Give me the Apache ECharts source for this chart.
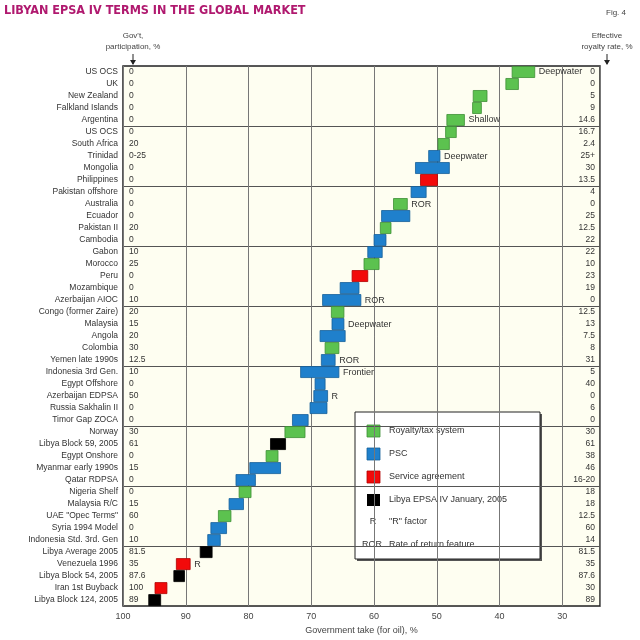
<!DOCTYPE html>
<html><head><meta charset="utf-8">
<script src="https://cdn.jsdelivr.net/npm/echarts@6/dist/echarts.min.js"></script>
<style>html,body{margin:0;padding:0;background:#fff}#c{width:640px;height:640px}</style>
</head><body><div id="c"></div>
<script>
const countries=["US OCS","UK","New Zealand","Falkland Islands","Argentina","US OCS","South Africa","Trinidad","Mongolia","Philippines","Pakistan offshore","Australia","Ecuador","Pakistan II","Cambodia","Gabon","Morocco","Peru","Mozambique","Azerbaijan AIOC","Congo (former Zaire)","Malaysia","Angola","Colombia","Yemen late 1990s","Indonesia 3rd Gen.","Egypt Offshore","Azerbaijan EDPSA","Russia Sakhalin II","Timor Gap ZOCA","Norway","Libya Block 59, 2005","Egypt Onshore","Myanmar early 1990s","Qatar RDPSA","Nigeria Shelf","Malaysia R/C","UAE \"Opec Terms\"","Syria 1994 Model","Indonesia Std. 3rd. Gen","Libya Average 2005","Venezuela 1996","Libya Block 54, 2005","Iran 1st Buyback","Libya Block 124, 2005"];
const participation=["0","0","0","0","0","0","20","0-25","0","0","0","0","0","20","0","10","25","0","0","10","20","15","20","30","12.5","10","0","50","0","0","30","61","0","15","0","0","15","60","0","10","81.5","35","87.6","100","89"];
const royalty=["0","0","5","9","14.6","16.7","2.4","25+","30","13.5","4","0","25","12.5","22","22","10","23","19","0","12.5","13","7.5","8","31","5","40","0","6","0","30","61","38","46","16-20","18","18","12.5","60","14","81.5","35","87.6","30","89"];
const takeHigh=[38.0,39.0,44.2,44.3,48.4,48.6,49.8,51.3,53.4,52.6,54.1,56.9,58.8,59.0,60.0,61.0,61.6,63.5,65.4,68.2,66.8,66.7,68.6,67.8,68.4,71.7,69.4,69.6,70.2,73.0,74.2,76.5,77.2,79.8,82.0,81.5,83.1,84.8,86.0,86.5,87.7,91.5,91.9,94.9,95.9];
const takeLow=[34.4,37.0,42.0,42.9,45.6,46.9,48.0,49.5,48.0,49.9,51.7,54.7,54.3,57.3,58.1,58.7,59.2,61.0,62.4,62.1,64.8,64.8,64.6,65.6,66.2,65.6,67.8,67.4,67.5,70.5,71.0,74.1,75.3,74.9,78.9,79.6,80.8,82.8,83.5,84.5,85.8,89.3,90.2,93.0,94.0];
const systemType=["G","G","G","G","G","G","G","P","P","S","P","G","P","G","P","P","G","S","P","P","G","P","P","G","P","P","P","P","P","P","G","L","G","P","P","G","P","G","P","P","L","S","L","S","L"];
const notes=["Deepwater","","","","Shallow","","","Deepwater","","","","ROR","","","","","","","","ROR","","Deepwater","","","ROR","Frontier","","R","","","","","","","","","","","","","","R","","",""];
const xTicks=[100,90,80,70,60,50,40,30];

const fill={G:'#5cc24f',P:'#1f80cc',S:'#f20a0a',L:'#000000'};
const edge={G:'#3d8f35',P:'#155f99',S:'#b00000',L:'#000000'};
const data=countries.map((c,i)=>[100-takeHigh[i],100-takeLow[i],i]);

const chart=echarts.init(document.getElementById('c'));
const catAxis={type:'category',data:countries,inverse:true,boundaryGap:true,axisTick:{show:false},axisLine:{show:false}};
const ts=(o)=>Object.assign({fontFamily:'Liberation Sans, Arial, sans-serif',fontSize:9,fill:'#333',verticalAlign:'middle'},o);
chart.setOption({
  animation:false,
  textStyle:{fontFamily:'Liberation Sans, Arial, sans-serif'},
  grid:{left:123,right:40,top:66,bottom:30,show:true,backgroundColor:'#fefef1',borderColor:'#222',borderWidth:1.5},
  xAxis:{type:'value',min:0,max:76,interval:10,
    axisLine:{show:false},axisTick:{show:false},
    axisLabel:{fontSize:9,color:'#444',margin:6,formatter:v=>(v%10===0&&xTicks.includes(100-v))?String(100-v):''},
    splitLine:{show:true,lineStyle:{color:'#777',width:1}},
    name:'Government take (for oil), %',nameLocation:'middle',nameGap:19,nameTextStyle:{fontSize:9,color:'#444'}},
  yAxis:[
    Object.assign({},catAxis,{position:'left',axisLabel:{fontSize:8.5,color:'#333',margin:5,interval:0},
      splitLine:{show:true,interval:(i)=>i%5===0,lineStyle:{color:'#555',width:1}}}),
    Object.assign({},catAxis,{position:'left',data:participation,axisLabel:{inside:true,fontSize:8.5,color:'#333',margin:6,interval:0},splitLine:{show:false}}),
    Object.assign({},catAxis,{position:'right',data:royalty,axisLabel:{inside:true,fontSize:8.5,color:'#333',margin:5,interval:0},splitLine:{show:false}})
  ],
  series:[{
    type:'custom',yAxisIndex:0,data:data,
    encode:{x:[0,1],y:2},
    renderItem:(params,api)=>{
      const i=api.value(2);
      const a=api.coord([api.value(0),i]);
      const b=api.coord([api.value(1),i]);
      const h=api.size([0,1])[1]*0.92;
      const t=systemType[i];
      const children=[{type:'rect',shape:{x:a[0],y:a[1]-h/2,width:b[0]-a[0],height:h},
        style:{fill:fill[t],stroke:edge[t],lineWidth:0.8}}];
      if(notes[i]) children.push({type:'text',style:ts({x:b[0]+4,y:a[1],text:notes[i]})});
      return {type:'group',children};
    }
  }],
  graphic:[
    {type:'text',style:{x:4,y:11,text:'LIBYAN EPSA IV TERMS IN THE GLOBAL MARKET',fontSize:12.5,fontWeight:'bold',fill:'#b0196f',verticalAlign:'middle',fontFamily:'Liberation Sans Narrow, DejaVu Sans Condensed, sans-serif'}},
    {type:'text',style:ts({x:626,y:13,text:'Fig. 4',fontSize:8,fill:'#444',align:'right'})},
    {type:'text',style:{x:133,y:30,text:"Gov't,\nparticipation, %",fontSize:8,fill:'#444',align:'center',lineHeight:11,fontFamily:'Liberation Sans, Arial, sans-serif'}},
    {type:'text',style:{x:607,y:30,text:'Effective\nroyalty rate, %',fontSize:8,fill:'#444',align:'center',lineHeight:11,fontFamily:'Liberation Sans, Arial, sans-serif'}},
    {type:'line',shape:{x1:133,y1:54,x2:133,y2:64},style:{stroke:'#222',lineWidth:1}},
    {type:'polygon',shape:{points:[[130,60],[136,60],[133,65]]},style:{fill:'#222'}},
    {type:'line',shape:{x1:607,y1:54,x2:607,y2:64},style:{stroke:'#222',lineWidth:1}},
    {type:'polygon',shape:{points:[[604,60],[610,60],[607,65]]},style:{fill:'#222'}},
    {type:'group',x:355,y:412,z:100,children:[
      {type:'rect',shape:{x:2,y:2,width:185,height:147},style:{fill:'#555'}},
      {type:'rect',shape:{x:0,y:0,width:185,height:147},style:{fill:'#fff',stroke:'#222',lineWidth:1}},
      {type:'rect',shape:{x:12,y:13,width:13,height:12},style:{fill:fill.G,stroke:edge.G,lineWidth:0.8}},
      {type:'text',style:ts({x:34,y:19,text:'Royalty/tax system'})},
      {type:'rect',shape:{x:12,y:36,width:13,height:12},style:{fill:fill.P,stroke:edge.P,lineWidth:0.8}},
      {type:'text',style:ts({x:34,y:42,text:'PSC'})},
      {type:'rect',shape:{x:12,y:59,width:13,height:12},style:{fill:fill.S,stroke:edge.S,lineWidth:0.8}},
      {type:'text',style:ts({x:34,y:65,text:'Service agreement'})},
      {type:'rect',shape:{x:12,y:82,width:13,height:12},style:{fill:'#000'}},
      {type:'text',style:ts({x:34,y:88,text:'Libya EPSA IV January, 2005'})},
      {type:'text',style:ts({x:18,y:110,text:'R',align:'center'})},
      {type:'text',style:ts({x:34,y:110,text:'"R" factor'})},
      {type:'text',style:ts({x:7,y:133,text:'ROR'})},
      {type:'text',style:ts({x:34,y:133,text:'Rate of return feature'})}
    ]}
  ]
});
</script></body></html>
